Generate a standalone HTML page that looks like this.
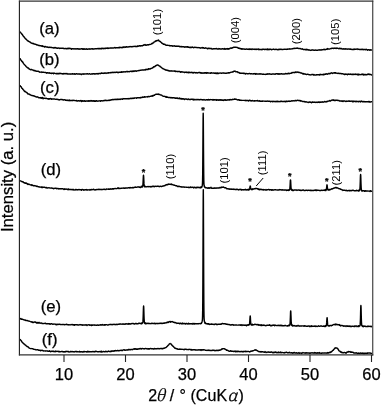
<!DOCTYPE html>
<html><head><meta charset="utf-8"><style>
html,body{margin:0;padding:0;background:#fff;}
svg{display:block;}
text{font-family:"Liberation Sans",Arial,sans-serif;fill:#000;stroke:#000;stroke-width:0.25px;}
</style></head><body>
<svg width="381" height="405" viewBox="0 0 381 405">
<rect x="0" y="0" width="381" height="405" fill="#fff"/>
<g fill="none" stroke="#000" stroke-width="1.45" stroke-linejoin="round">
<path d="M20.0 31.60L20.50 32.36L21.00 32.94L21.50 33.49L22.00 34.24L22.50 34.79L23.00 35.63L23.50 36.51L24.00 36.77L24.50 37.36L25.00 38.18L25.50 38.73L26.00 39.22L26.50 39.50L27.00 40.16L27.50 40.76L28.00 40.79L28.50 41.37L29.00 41.45L29.50 41.88L30.00 42.04L30.50 42.60L31.00 42.63L31.50 43.15L32.00 43.33L32.50 43.45L33.00 43.17L33.50 43.73L34.00 44.00L34.50 44.19L35.00 44.01L35.50 44.38L36.00 44.43L36.50 44.61L37.00 45.13L37.50 44.89L38.00 45.18L38.50 45.50L39.00 45.33L39.50 45.54L40.00 45.70L40.50 45.80L41.00 45.65L41.50 46.01L42.00 46.37L42.50 45.88L43.00 46.46L43.50 46.40L44.00 46.34L44.50 46.96L45.00 46.79L45.50 46.48L46.00 46.82L46.50 46.99L47.00 46.91L47.50 47.16L48.00 47.08L48.50 47.30L49.00 47.52L49.50 47.16L50.00 47.40L50.50 47.33L51.00 47.51L51.50 47.31L52.00 47.49L52.50 47.62L53.00 47.89L53.50 47.99L54.00 47.54L54.50 47.69L55.00 48.02L55.50 47.53L56.00 47.87L56.50 47.98L57.00 48.29L57.50 48.21L58.00 48.04L58.50 48.06L59.00 48.12L59.50 48.50L60.00 48.14L60.50 48.20L61.00 48.36L61.50 48.29L62.00 48.30L62.50 48.14L63.00 48.39L63.50 48.33L64.00 48.68L64.50 48.60L65.00 48.48L65.50 48.65L66.00 48.47L66.50 48.77L67.00 48.57L67.50 48.71L68.00 48.36L68.50 48.70L69.00 48.32L69.50 48.27L70.00 48.63L70.50 48.53L71.00 48.76L71.50 49.19L72.00 48.60L72.50 48.66L73.00 48.84L73.50 48.92L74.00 48.80L74.50 48.81L75.00 49.01L75.50 48.99L76.00 48.70L76.50 48.91L77.00 48.95L77.50 48.74L78.00 49.02L78.50 48.81L79.00 49.19L79.50 49.05L80.00 49.04L80.50 48.92L81.00 49.02L81.50 48.65L82.00 48.84L82.50 49.14L83.00 48.65L83.50 49.25L84.00 48.73L84.50 49.24L85.00 48.92L85.50 49.24L86.00 49.11L86.50 48.77L87.00 49.32L87.50 49.36L88.00 49.05L88.50 49.00L89.00 49.01L89.50 48.84L90.00 49.24L90.50 48.90L91.00 48.99L91.50 48.82L92.00 48.84L92.50 48.70L93.00 49.19L93.50 48.89L94.00 49.10L94.50 48.89L95.00 48.73L95.50 48.78L96.00 48.72L96.50 48.81L97.00 48.72L97.50 48.71L98.00 48.48L98.50 48.57L99.00 49.05L99.50 48.56L100.00 48.47L100.50 48.73L101.00 48.92L101.50 48.32L102.00 48.55L102.50 48.44L103.00 48.19L103.50 48.66L104.00 48.48L104.50 48.47L105.00 48.28L105.50 48.49L106.00 48.26L106.50 48.30L107.00 48.08L107.50 48.02L108.00 48.50L108.50 48.10L109.00 48.22L109.50 48.12L110.00 48.01L110.50 47.96L111.00 48.15L111.50 47.93L112.00 47.93L112.50 47.93L113.00 48.13L113.50 47.99L114.00 47.90L114.50 47.68L115.00 47.49L115.50 47.92L116.00 47.89L116.50 47.64L117.00 47.75L117.50 47.77L118.00 47.75L118.50 47.74L119.00 47.43L119.50 47.80L120.00 47.21L120.50 47.61L121.00 47.50L121.50 47.55L122.00 47.72L122.50 47.61L123.00 47.06L123.50 46.92L124.00 47.39L124.50 46.99L125.00 47.16L125.50 47.30L126.00 46.78L126.50 46.65L127.00 47.09L127.50 47.02L128.00 46.93L128.50 46.95L129.00 46.74L129.50 46.58L130.00 46.81L130.50 46.62L131.00 46.45L131.50 46.84L132.00 46.69L132.50 46.75L133.00 46.44L133.50 46.46L134.00 46.36L134.50 46.34L135.00 46.52L135.50 46.28L136.00 46.46L136.50 46.40L137.00 46.69L137.50 45.95L138.00 46.34L138.50 46.08L139.00 46.04L139.50 45.68L140.00 45.81L140.50 45.99L141.00 45.76L141.50 45.72L142.00 45.58L142.50 45.80L143.00 45.50L143.50 45.00L144.00 45.23L144.50 44.91L145.00 44.59L145.50 45.08L146.00 45.38L146.50 45.06L147.00 44.75L147.50 44.73L148.00 45.07L148.50 44.79L149.00 44.67L149.50 44.53L150.00 44.41L150.50 44.40L151.00 44.16L151.50 43.87L152.00 43.37L152.50 43.40L153.00 42.86L153.50 42.88L154.00 42.05L154.50 41.91L155.00 41.57L155.50 40.95L156.00 41.24L156.50 40.94L157.00 40.38L157.50 40.56L158.00 40.53L158.50 40.08L159.00 40.90L159.50 41.15L160.00 41.54L160.50 41.70L161.00 42.25L161.50 42.65L162.00 43.29L162.50 43.46L163.00 43.70L163.50 44.28L164.00 44.12L164.50 44.37L165.00 44.28L165.50 45.12L166.00 45.14L166.50 45.26L167.00 45.31L167.50 45.29L168.00 45.39L168.50 45.37L169.00 45.44L169.50 45.55L170.00 45.90L170.50 45.76L171.00 45.69L171.50 45.63L172.00 45.67L172.50 46.17L173.00 45.99L173.50 45.95L174.00 45.92L174.50 45.81L175.00 46.06L175.50 46.30L176.00 46.09L176.50 46.17L177.00 46.22L177.50 46.33L178.00 46.03L178.50 46.35L179.00 46.27L179.50 46.66L180.00 46.37L180.50 46.68L181.00 46.92L181.50 46.59L182.00 46.57L182.50 46.77L183.00 46.77L183.50 46.61L184.00 46.93L184.50 47.28L185.00 46.86L185.50 46.90L186.00 46.76L186.50 47.06L187.00 46.78L187.50 46.84L188.00 47.34L188.50 46.93L189.00 47.36L189.50 47.47L190.00 47.25L190.50 47.33L191.00 47.64L191.50 47.24L192.00 47.18L192.50 47.06L193.00 47.36L193.50 47.68L194.00 47.60L194.50 47.24L195.00 47.29L195.50 47.39L196.00 47.57L196.50 47.50L197.00 47.61L197.50 47.66L198.00 47.57L198.50 47.65L199.00 47.73L199.50 47.70L200.00 47.85L200.50 48.15L201.00 47.93L201.50 47.86L202.00 47.55L202.50 48.00L203.00 47.58L203.50 47.73L204.00 48.22L204.50 48.23L205.00 48.11L205.50 47.84L206.00 48.15L206.50 48.13L207.00 48.44L207.50 48.81L208.00 48.44L208.50 48.29L209.00 48.25L209.50 48.51L210.00 48.53L210.50 48.37L211.00 48.66L211.50 48.44L212.00 48.92L212.50 48.94L213.00 48.97L213.50 48.68L214.00 48.90L214.50 48.79L215.00 48.75L215.50 48.77L216.00 48.59L216.50 48.57L217.00 49.03L217.50 48.84L218.00 48.93L218.50 49.10L219.00 48.56L219.50 48.76L220.00 48.95L220.50 49.00L221.00 48.85L221.50 49.14L222.00 48.98L222.50 48.69L223.00 48.75L223.50 49.10L224.00 49.02L224.50 48.55L225.00 49.19L225.50 49.02L226.00 49.16L226.50 48.79L227.00 48.78L227.50 48.57L228.00 49.26L228.50 48.65L229.00 48.93L229.50 48.40L230.00 48.46L230.50 47.98L231.00 48.10L231.50 48.23L232.00 47.63L232.50 47.94L233.00 47.64L233.50 47.22L234.00 47.22L234.50 47.16L235.00 47.22L235.50 47.15L236.00 47.18L236.50 47.40L237.00 47.41L237.50 47.52L238.00 47.94L238.50 48.29L239.00 47.96L239.50 48.41L240.00 48.41L240.50 48.46L241.00 48.92L241.50 48.73L242.00 49.21L242.50 48.81L243.00 49.10L243.50 49.02L244.00 48.95L244.50 49.24L245.00 49.12L245.50 49.29L246.00 49.18L246.50 48.99L247.00 49.20L247.50 49.25L248.00 49.44L248.50 49.08L249.00 49.26L249.50 48.94L250.00 49.42L250.50 49.08L251.00 48.95L251.50 49.30L252.00 49.54L252.50 49.02L253.00 49.12L253.50 49.19L254.00 49.12L254.50 49.43L255.00 49.20L255.50 49.22L256.00 49.49L256.50 49.22L257.00 49.47L257.50 49.19L258.00 49.15L258.50 49.03L259.00 49.77L259.50 49.34L260.00 49.46L260.50 49.40L261.00 49.45L261.50 49.43L262.00 49.80L262.50 49.22L263.00 49.12L263.50 49.23L264.00 49.17L264.50 49.59L265.00 49.60L265.50 49.25L266.00 49.17L266.50 49.38L267.00 49.73L267.50 48.89L268.00 49.56L268.50 49.24L269.00 49.67L269.50 49.24L270.00 49.40L270.50 49.16L271.00 49.27L271.50 49.74L272.00 49.63L272.50 49.38L273.00 49.29L273.50 49.09L274.00 49.39L274.50 49.46L275.00 49.45L275.50 49.45L276.00 49.24L276.50 49.45L277.00 49.46L277.50 49.72L278.00 49.84L278.50 49.43L279.00 49.31L279.50 49.44L280.00 49.33L280.50 49.31L281.00 49.44L281.50 49.24L282.00 49.56L282.50 49.42L283.00 49.48L283.50 49.39L284.00 49.27L284.50 49.22L285.00 49.35L285.50 49.27L286.00 49.41L286.50 49.35L287.00 49.06L287.50 49.32L288.00 49.01L288.50 49.12L289.00 49.15L289.50 48.75L290.00 49.14L290.50 49.09L291.00 48.97L291.50 48.85L292.00 48.79L292.50 48.60L293.00 48.66L293.50 48.52L294.00 48.57L294.50 48.23L295.00 48.45L295.50 48.37L296.00 48.26L296.50 48.17L297.00 48.36L297.50 47.93L298.00 48.39L298.50 48.41L299.00 48.49L299.50 48.60L300.00 48.49L300.50 48.68L301.00 48.97L301.50 49.04L302.00 49.10L302.50 48.86L303.00 49.37L303.50 49.59L304.00 49.65L304.50 49.57L305.00 49.29L305.50 49.85L306.00 49.70L306.50 49.27L307.00 49.90L307.50 49.57L308.00 49.65L308.50 49.82L309.00 50.23L309.50 49.93L310.00 50.08L310.50 50.40L311.00 50.38L311.50 50.06L312.00 50.04L312.50 49.85L313.00 49.98L313.50 50.21L314.00 50.21L314.50 50.15L315.00 50.33L315.50 49.98L316.00 50.12L316.50 50.28L317.00 50.24L317.50 50.33L318.00 50.18L318.50 50.02L319.00 50.14L319.50 49.84L320.00 49.69L320.50 50.10L321.00 49.94L321.50 49.98L322.00 49.54L322.50 49.76L323.00 49.67L323.50 49.57L324.00 49.23L324.50 49.55L325.00 49.74L325.50 49.56L326.00 49.29L326.50 49.33L327.00 49.40L327.50 48.60L328.00 49.04L328.50 49.07L329.00 49.00L329.50 49.10L330.00 48.89L330.50 48.63L331.00 48.53L331.50 48.54L332.00 48.19L332.50 48.23L333.00 48.36L333.50 48.53L334.00 48.09L334.50 48.11L335.00 48.17L335.50 48.42L336.00 48.18L336.50 48.52L337.00 48.08L337.50 48.29L338.00 48.34L338.50 48.59L339.00 48.70L339.50 48.24L340.00 48.41L340.50 48.71L341.00 48.56L341.50 48.44L342.00 48.99L342.50 48.92L343.00 48.96L343.50 48.80L344.00 49.13L344.50 48.91L345.00 49.20L345.50 48.82L346.00 48.85L346.50 49.08L347.00 48.91L347.50 49.20L348.00 49.14L348.50 48.91L349.00 49.12L349.50 49.05L350.00 49.32L350.50 49.02L351.00 49.07L351.50 49.41L352.00 49.63L352.50 49.59L353.00 49.22L353.50 49.26L354.00 49.53L354.50 49.21L355.00 49.06L355.50 49.29L356.00 49.37L356.50 49.13L357.00 48.98L357.50 49.03L358.00 49.47L358.50 49.20L359.00 49.34L359.50 49.42L360.00 49.52L360.50 49.35L361.00 49.53L361.50 49.27L362.00 49.40L362.50 49.28L363.00 49.74L363.50 49.52L364.00 49.40L364.50 49.50L365.00 49.55L365.50 49.76L366.00 49.32L366.50 49.46L367.00 49.61L367.50 50.22L368.00 49.93L368.50 49.75L369.00 49.94L369.50 50.23L370.00 49.80L370.50 49.81L371.00 50.15L371.50 50.04L372.00 50.11"/>
<path d="M20.0 58.19L20.50 59.48L21.00 60.21L21.50 60.73L22.00 61.48L22.50 61.64L23.00 62.85L23.50 63.34L24.00 64.08L24.50 64.75L25.00 65.16L25.50 65.50L26.00 66.50L26.50 66.83L27.00 67.39L27.50 67.75L28.00 68.13L28.50 68.00L29.00 68.96L29.50 69.00L30.00 69.40L30.50 69.79L31.00 69.61L31.50 69.44L32.00 69.80L32.50 69.91L33.00 70.22L33.50 70.49L34.00 70.22L34.50 70.82L35.00 70.58L35.50 71.06L36.00 71.09L36.50 71.16L37.00 71.30L37.50 71.30L38.00 71.37L38.50 71.24L39.00 71.65L39.50 72.10L40.00 72.21L40.50 72.15L41.00 72.11L41.50 71.90L42.00 72.40L42.50 72.17L43.00 72.24L43.50 72.26L44.00 72.40L44.50 72.36L45.00 72.50L45.50 72.36L46.00 72.56L46.50 73.15L47.00 72.74L47.50 72.76L48.00 72.97L48.50 73.06L49.00 72.75L49.50 72.98L50.00 73.25L50.50 73.17L51.00 73.19L51.50 73.52L52.00 73.11L52.50 73.31L53.00 73.22L53.50 73.66L54.00 73.01L54.50 73.30L55.00 73.36L55.50 73.63L56.00 73.65L56.50 73.83L57.00 73.26L57.50 73.75L58.00 73.56L58.50 73.51L59.00 73.77L59.50 73.49L60.00 73.28L60.50 73.63L61.00 73.42L61.50 73.60L62.00 73.82L62.50 73.82L63.00 74.09L63.50 73.74L64.00 73.49L64.50 73.66L65.00 73.63L65.50 73.59L66.00 73.93L66.50 73.72L67.00 73.47L67.50 74.01L68.00 73.86L68.50 73.97L69.00 73.93L69.50 74.04L70.00 73.93L70.50 74.18L71.00 74.03L71.50 74.03L72.00 74.04L72.50 73.68L73.00 73.95L73.50 73.93L74.00 74.03L74.50 73.73L75.00 74.33L75.50 74.04L76.00 73.78L76.50 73.69L77.00 73.98L77.50 74.02L78.00 73.90L78.50 74.07L79.00 73.93L79.50 74.17L80.00 73.92L80.50 74.06L81.00 74.27L81.50 74.59L82.00 73.87L82.50 73.99L83.00 73.91L83.50 74.24L84.00 73.85L84.50 73.99L85.00 74.08L85.50 73.89L86.00 73.89L86.50 73.99L87.00 73.66L87.50 73.79L88.00 73.99L88.50 74.09L89.00 74.01L89.50 73.68L90.00 73.93L90.50 74.16L91.00 74.10L91.50 73.95L92.00 73.77L92.50 74.05L93.00 73.78L93.50 73.64L94.00 73.68L94.50 74.11L95.00 73.83L95.50 73.99L96.00 73.63L96.50 73.88L97.00 73.54L97.50 73.60L98.00 74.09L98.50 73.71L99.00 73.42L99.50 73.47L100.00 73.51L100.50 73.65L101.00 73.28L101.50 72.99L102.00 73.24L102.50 73.26L103.00 73.24L103.50 73.44L104.00 73.21L104.50 73.27L105.00 72.84L105.50 73.20L106.00 73.41L106.50 73.10L107.00 72.96L107.50 72.91L108.00 73.20L108.50 72.62L109.00 72.74L109.50 72.82L110.00 72.85L110.50 72.58L111.00 72.69L111.50 72.54L112.00 72.59L112.50 72.51L113.00 72.28L113.50 72.47L114.00 72.62L114.50 72.23L115.00 72.34L115.50 72.50L116.00 72.12L116.50 72.34L117.00 72.07L117.50 72.48L118.00 72.68L118.50 72.60L119.00 72.12L119.50 72.28L120.00 72.13L120.50 72.10L121.00 72.36L121.50 71.76L122.00 72.20L122.50 71.95L123.00 72.22L123.50 71.94L124.00 71.74L124.50 71.90L125.00 71.96L125.50 71.79L126.00 71.85L126.50 71.62L127.00 71.26L127.50 71.83L128.00 71.76L128.50 71.62L129.00 71.57L129.50 71.73L130.00 71.39L130.50 71.30L131.00 71.37L131.50 71.61L132.00 71.06L132.50 71.53L133.00 71.13L133.50 70.99L134.00 71.42L134.50 71.11L135.00 70.82L135.50 70.96L136.00 71.17L136.50 71.16L137.00 70.77L137.50 70.87L138.00 70.86L138.50 70.51L139.00 70.63L139.50 70.48L140.00 70.29L140.50 70.22L141.00 70.25L141.50 70.16L142.00 69.95L142.50 69.90L143.00 70.13L143.50 69.87L144.00 69.92L144.50 69.91L145.00 69.72L145.50 69.98L146.00 69.29L146.50 69.55L147.00 69.26L147.50 69.62L148.00 69.52L148.50 68.72L149.00 68.82L149.50 69.05L150.00 68.95L150.50 68.79L151.00 68.46L151.50 68.38L152.00 68.20L152.50 67.80L153.00 67.75L153.50 66.79L154.00 67.05L154.50 66.39L155.00 66.45L155.50 65.89L156.00 65.47L156.50 65.49L157.00 65.08L157.50 65.01L158.00 64.93L158.50 65.39L159.00 65.74L159.50 66.17L160.00 66.30L160.50 66.93L161.00 67.13L161.50 67.51L162.00 68.02L162.50 68.48L163.00 68.53L163.50 68.85L164.00 69.14L164.50 69.43L165.00 69.44L165.50 70.02L166.00 69.90L166.50 70.22L167.00 70.08L167.50 70.43L168.00 70.54L168.50 70.46L169.00 71.03L169.50 70.77L170.00 71.13L170.50 71.03L171.00 70.77L171.50 70.89L172.00 71.11L172.50 71.09L173.00 71.15L173.50 71.14L174.00 70.89L174.50 71.26L175.00 70.91L175.50 71.48L176.00 71.31L176.50 71.37L177.00 71.52L177.50 71.66L178.00 71.37L178.50 71.36L179.00 71.54L179.50 71.39L180.00 71.65L180.50 72.20L181.00 71.71L181.50 72.10L182.00 71.73L182.50 72.10L183.00 72.02L183.50 72.10L184.00 72.26L184.50 72.53L185.00 72.25L185.50 72.26L186.00 72.07L186.50 72.41L187.00 72.27L187.50 72.51L188.00 72.36L188.50 72.75L189.00 72.03L189.50 72.39L190.00 72.65L190.50 72.42L191.00 72.36L191.50 72.49L192.00 72.29L192.50 72.61L193.00 73.09L193.50 72.85L194.00 72.42L194.50 72.49L195.00 72.60L195.50 72.90L196.00 72.56L196.50 72.60L197.00 72.93L197.50 72.94L198.00 72.71L198.50 72.58L199.00 72.51L199.50 72.69L200.00 72.40L200.50 73.01L201.00 72.74L201.50 72.98L202.00 73.27L202.50 73.14L203.00 72.69L203.50 73.10L204.00 73.17L204.50 72.80L205.00 72.77L205.50 72.95L206.00 72.66L206.50 73.29L207.00 72.52L207.50 72.79L208.00 72.97L208.50 72.99L209.00 73.07L209.50 73.10L210.00 73.01L210.50 73.29L211.00 72.65L211.50 73.08L212.00 72.95L212.50 73.12L213.00 73.15L213.50 72.93L214.00 72.99L214.50 73.28L215.00 73.20L215.50 73.00L216.00 73.55L216.50 73.61L217.00 72.86L217.50 73.21L218.00 73.66L218.50 73.32L219.00 73.21L219.50 73.13L220.00 73.06L220.50 73.13L221.00 73.07L221.50 73.33L222.00 73.10L222.50 73.09L223.00 72.93L223.50 73.16L224.00 72.99L224.50 73.12L225.00 73.36L225.50 73.21L226.00 73.22L226.50 73.17L227.00 73.08L227.50 73.00L228.00 72.92L228.50 73.07L229.00 72.63L229.50 73.03L230.00 72.67L230.50 72.40L231.00 72.32L231.50 72.14L232.00 72.15L232.50 71.82L233.00 72.04L233.50 71.52L234.00 71.11L234.50 71.35L235.00 71.08L235.50 71.51L236.00 71.82L236.50 71.86L237.00 71.62L237.50 71.90L238.00 72.58L238.50 72.46L239.00 72.56L239.50 72.91L240.00 73.33L240.50 73.21L241.00 73.09L241.50 73.22L242.00 73.35L242.50 73.17L243.00 73.14L243.50 73.42L244.00 73.26L244.50 73.48L245.00 73.54L245.50 74.03L246.00 73.42L246.50 73.59L247.00 73.61L247.50 73.75L248.00 73.90L248.50 73.61L249.00 73.57L249.50 73.43L250.00 73.59L250.50 73.90L251.00 73.83L251.50 73.63L252.00 73.78L252.50 73.88L253.00 73.99L253.50 73.79L254.00 73.88L254.50 73.58L255.00 73.73L255.50 74.30L256.00 73.55L256.50 73.94L257.00 74.06L257.50 73.96L258.00 73.88L258.50 74.04L259.00 74.06L259.50 74.06L260.00 73.71L260.50 74.06L261.00 73.93L261.50 74.00L262.00 74.16L262.50 74.25L263.00 74.30L263.50 74.03L264.00 74.31L264.50 74.37L265.00 74.36L265.50 74.41L266.00 74.10L266.50 74.09L267.00 74.29L267.50 73.85L268.00 74.16L268.50 74.01L269.00 74.04L269.50 73.76L270.00 73.92L270.50 74.09L271.00 74.27L271.50 74.28L272.00 74.06L272.50 74.03L273.00 73.90L273.50 74.14L274.00 74.00L274.50 74.16L275.00 74.38L275.50 74.02L276.00 73.72L276.50 73.83L277.00 73.70L277.50 73.75L278.00 74.24L278.50 74.01L279.00 73.65L279.50 74.07L280.00 74.18L280.50 73.85L281.00 73.77L281.50 73.83L282.00 73.94L282.50 73.99L283.00 74.08L283.50 74.07L284.00 74.05L284.50 74.06L285.00 73.90L285.50 73.44L286.00 73.69L286.50 73.74L287.00 73.57L287.50 73.78L288.00 73.48L288.50 73.31L289.00 73.73L289.50 73.51L290.00 73.34L290.50 73.40L291.00 73.34L291.50 73.11L292.00 72.45L292.50 72.71L293.00 72.65L293.50 72.43L294.00 72.57L294.50 72.66L295.00 72.24L295.50 72.03L296.00 72.60L296.50 72.07L297.00 71.91L297.50 72.22L298.00 72.31L298.50 72.16L299.00 72.56L299.50 72.42L300.00 72.47L300.50 72.83L301.00 73.10L301.50 72.96L302.00 73.30L302.50 73.35L303.00 74.07L303.50 73.49L304.00 74.03L304.50 73.85L305.00 73.94L305.50 74.20L306.00 74.32L306.50 74.48L307.00 74.36L307.50 74.24L308.00 74.31L308.50 74.57L309.00 74.63L309.50 74.84L310.00 74.68L310.50 74.84L311.00 74.96L311.50 74.72L312.00 74.41L312.50 74.49L313.00 74.46L313.50 75.08L314.00 74.60L314.50 75.02L315.00 74.90L315.50 75.12L316.00 74.98L316.50 74.75L317.00 74.73L317.50 74.78L318.00 74.79L318.50 74.64L319.00 74.72L319.50 75.04L320.00 74.36L320.50 74.73L321.00 74.47L321.50 74.66L322.00 74.76L322.50 74.55L323.00 74.67L323.50 74.15L324.00 74.64L324.50 74.24L325.00 74.43L325.50 74.27L326.00 73.64L326.50 73.92L327.00 74.03L327.50 74.20L328.00 73.84L328.50 73.73L329.00 73.28L329.50 73.74L330.00 73.70L330.50 73.24L331.00 73.08L331.50 72.71L332.00 73.12L332.50 73.42L333.00 72.97L333.50 73.06L334.00 72.91L334.50 72.62L335.00 73.13L335.50 72.67L336.00 72.95L336.50 73.13L337.00 73.34L337.50 73.34L338.00 73.43L338.50 73.29L339.00 73.27L339.50 73.63L340.00 73.56L340.50 73.51L341.00 73.59L341.50 73.81L342.00 73.60L342.50 73.75L343.00 73.74L343.50 74.14L344.00 74.22L344.50 74.57L345.00 73.90L345.50 74.09L346.00 74.43L346.50 74.22L347.00 74.21L347.50 74.63L348.00 74.24L348.50 74.09L349.00 74.06L349.50 74.40L350.00 74.41L350.50 74.08L351.00 74.16L351.50 74.48L352.00 74.49L352.50 74.25L353.00 74.51L353.50 74.51L354.00 74.04L354.50 74.34L355.00 74.49L355.50 74.30L356.00 73.99L356.50 74.36L357.00 74.57L357.50 74.74L358.00 73.99L358.50 74.96L359.00 74.21L359.50 74.63L360.00 74.69L360.50 74.65L361.00 74.48L361.50 74.23L362.00 74.59L362.50 74.32L363.00 73.96L363.50 75.04L364.00 74.62L364.50 74.85L365.00 74.30L365.50 74.78L366.00 74.81L366.50 74.81L367.00 74.50L367.50 74.27L368.00 74.48L368.50 74.08L369.00 74.19L369.50 74.55L370.00 74.34L370.50 74.51L371.00 74.53L371.50 74.94L372.00 74.82"/>
<path d="M20.0 85.29L20.50 86.31L21.00 86.67L21.50 87.49L22.00 88.45L22.50 88.68L23.00 89.50L23.50 89.86L24.00 90.66L24.50 91.41L25.00 91.34L25.50 91.93L26.00 92.08L26.50 92.39L27.00 92.71L27.50 93.57L28.00 94.06L28.50 93.97L29.00 94.01L29.50 94.55L30.00 94.59L30.50 95.05L31.00 95.17L31.50 95.37L32.00 95.63L32.50 95.58L33.00 95.80L33.50 95.71L34.00 96.13L34.50 96.09L35.00 96.49L35.50 96.47L36.00 96.82L36.50 97.03L37.00 96.78L37.50 97.01L38.00 97.10L38.50 97.55L39.00 97.84L39.50 97.76L40.00 97.61L40.50 98.06L41.00 97.55L41.50 98.24L42.00 97.88L42.50 97.53L43.00 98.68L43.50 98.54L44.00 98.08L44.50 98.37L45.00 98.35L45.50 98.47L46.00 98.20L46.50 98.41L47.00 98.69L47.50 98.68L48.00 98.92L48.50 98.73L49.00 99.23L49.50 98.65L50.00 98.89L50.50 98.49L51.00 98.66L51.50 99.21L52.00 98.79L52.50 99.12L53.00 99.04L53.50 98.88L54.00 99.05L54.50 99.05L55.00 99.10L55.50 99.38L56.00 99.40L56.50 99.20L57.00 99.17L57.50 99.45L58.00 99.41L58.50 99.67L59.00 100.04L59.50 99.72L60.00 99.58L60.50 99.59L61.00 99.49L61.50 99.52L62.00 99.54L62.50 99.70L63.00 99.73L63.50 100.01L64.00 99.81L64.50 99.89L65.00 99.72L65.50 100.33L66.00 100.14L66.50 100.43L67.00 100.27L67.50 100.44L68.00 100.12L68.50 100.35L69.00 100.78L69.50 100.02L70.00 100.53L70.50 100.66L71.00 100.44L71.50 100.54L72.00 100.67L72.50 100.31L73.00 100.56L73.50 100.33L74.00 100.40L74.50 100.44L75.00 100.57L75.50 100.66L76.00 100.76L76.50 100.40L77.00 101.13L77.50 100.99L78.00 100.93L78.50 100.73L79.00 100.81L79.50 100.96L80.00 100.96L80.50 100.55L81.00 101.07L81.50 101.53L82.00 100.57L82.50 101.16L83.00 101.05L83.50 100.96L84.00 101.27L84.50 100.75L85.00 101.03L85.50 101.29L86.00 100.95L86.50 100.90L87.00 101.01L87.50 100.90L88.00 101.30L88.50 100.80L89.00 101.16L89.50 100.72L90.00 101.12L90.50 100.95L91.00 100.44L91.50 100.97L92.00 100.75L92.50 100.87L93.00 101.28L93.50 100.73L94.00 100.73L94.50 101.24L95.00 100.97L95.50 101.25L96.00 101.00L96.50 100.75L97.00 100.91L97.50 101.17L98.00 101.11L98.50 100.91L99.00 100.91L99.50 100.87L100.00 100.77L100.50 101.28L101.00 100.87L101.50 100.61L102.00 100.72L102.50 100.94L103.00 100.90L103.50 100.70L104.00 100.55L104.50 100.65L105.00 100.26L105.50 100.29L106.00 100.67L106.50 100.36L107.00 100.48L107.50 100.60L108.00 100.43L108.50 100.25L109.00 100.62L109.50 100.27L110.00 100.00L110.50 100.17L111.00 100.05L111.50 99.73L112.00 99.87L112.50 99.77L113.00 99.35L113.50 99.67L114.00 99.60L114.50 99.53L115.00 99.24L115.50 99.47L116.00 99.49L116.50 99.49L117.00 99.20L117.50 99.53L118.00 99.11L118.50 99.28L119.00 99.56L119.50 99.12L120.00 99.12L120.50 99.41L121.00 99.08L121.50 99.07L122.00 99.14L122.50 99.28L123.00 98.58L123.50 98.83L124.00 98.76L124.50 98.71L125.00 98.72L125.50 98.69L126.00 98.89L126.50 98.62L127.00 98.79L127.50 98.81L128.00 98.55L128.50 98.69L129.00 98.96L129.50 98.65L130.00 98.42L130.50 98.50L131.00 98.28L131.50 98.48L132.00 98.56L132.50 98.17L133.00 98.24L133.50 98.46L134.00 98.08L134.50 98.17L135.00 97.87L135.50 97.86L136.00 97.86L136.50 98.35L137.00 97.78L137.50 97.70L138.00 97.63L138.50 97.66L139.00 97.77L139.50 97.62L140.00 97.94L140.50 97.52L141.00 97.71L141.50 97.43L142.00 97.45L142.50 96.99L143.00 97.20L143.50 97.17L144.00 97.09L144.50 96.67L145.00 97.23L145.50 96.93L146.00 96.88L146.50 96.87L147.00 96.83L147.50 96.91L148.00 96.52L148.50 96.53L149.00 96.70L149.50 96.59L150.00 96.39L150.50 96.25L151.00 96.07L151.50 96.09L152.00 96.19L152.50 95.58L153.00 95.92L153.50 95.60L154.00 95.16L154.50 95.21L155.00 94.58L155.50 94.35L156.00 94.29L156.50 94.34L157.00 94.28L157.50 94.20L158.00 94.34L158.50 93.96L159.00 94.60L159.50 94.37L160.00 94.69L160.50 94.94L161.00 95.00L161.50 95.17L162.00 95.45L162.50 95.85L163.00 96.16L163.50 96.34L164.00 96.19L164.50 96.38L165.00 96.49L165.50 96.89L166.00 96.50L166.50 97.25L167.00 96.99L167.50 97.01L168.00 97.30L168.50 97.50L169.00 97.42L169.50 97.61L170.00 97.49L170.50 97.76L171.00 97.82L171.50 97.60L172.00 97.96L172.50 97.76L173.00 97.80L173.50 97.66L174.00 97.84L174.50 98.12L175.00 97.76L175.50 98.21L176.00 98.21L176.50 98.26L177.00 97.82L177.50 98.30L178.00 98.51L178.50 98.29L179.00 98.51L179.50 98.08L180.00 98.74L180.50 98.53L181.00 98.89L181.50 98.40L182.00 98.95L182.50 98.81L183.00 99.06L183.50 98.76L184.00 98.86L184.50 99.46L185.00 98.88L185.50 98.93L186.00 99.05L186.50 98.93L187.00 99.40L187.50 99.53L188.00 99.07L188.50 98.89L189.00 99.49L189.50 99.51L190.00 99.47L190.50 99.56L191.00 99.18L191.50 99.34L192.00 99.12L192.50 99.14L193.00 99.64L193.50 99.33L194.00 99.94L194.50 99.52L195.00 99.39L195.50 99.70L196.00 99.91L196.50 99.67L197.00 99.34L197.50 99.68L198.00 99.89L198.50 99.53L199.00 99.49L199.50 99.86L200.00 99.70L200.50 99.46L201.00 99.62L201.50 99.55L202.00 99.77L202.50 99.75L203.00 99.97L203.50 99.89L204.00 99.44L204.50 99.85L205.00 99.95L205.50 99.88L206.00 100.00L206.50 99.69L207.00 99.62L207.50 100.00L208.00 99.61L208.50 99.40L209.00 100.05L209.50 99.70L210.00 99.79L210.50 99.58L211.00 99.60L211.50 99.64L212.00 99.81L212.50 99.96L213.00 99.43L213.50 100.05L214.00 99.67L214.50 99.70L215.00 100.05L215.50 99.91L216.00 99.62L216.50 100.30L217.00 99.77L217.50 99.99L218.00 99.99L218.50 100.23L219.00 99.86L219.50 100.16L220.00 99.82L220.50 100.19L221.00 99.82L221.50 99.90L222.00 100.36L222.50 100.04L223.00 100.01L223.50 100.43L224.00 100.06L224.50 99.83L225.00 100.14L225.50 99.75L226.00 100.21L226.50 100.22L227.00 99.86L227.50 99.84L228.00 99.99L228.50 99.94L229.00 99.72L229.50 100.00L230.00 99.44L230.50 99.71L231.00 99.67L231.50 99.63L232.00 99.67L232.50 99.29L233.00 99.58L233.50 99.35L234.00 99.20L234.50 99.02L235.00 99.05L235.50 99.38L236.00 99.17L236.50 99.45L237.00 99.74L237.50 99.83L238.00 100.03L238.50 99.74L239.00 99.67L239.50 100.16L240.00 100.08L240.50 100.30L241.00 100.12L241.50 100.40L242.00 100.37L242.50 100.38L243.00 100.36L243.50 100.37L244.00 100.36L244.50 100.38L245.00 100.56L245.50 100.28L246.00 100.75L246.50 100.41L247.00 100.65L247.50 100.45L248.00 100.44L248.50 100.92L249.00 100.47L249.50 100.30L250.00 100.44L250.50 100.54L251.00 101.05L251.50 100.68L252.00 100.85L252.50 100.49L253.00 100.78L253.50 100.86L254.00 101.11L254.50 100.63L255.00 100.91L255.50 100.87L256.00 100.63L256.50 100.85L257.00 100.82L257.50 100.43L258.00 101.04L258.50 101.04L259.00 100.87L259.50 100.71L260.00 101.29L260.50 101.07L261.00 101.23L261.50 101.33L262.00 100.96L262.50 101.25L263.00 101.05L263.50 101.10L264.00 101.11L264.50 101.14L265.00 101.38L265.50 101.20L266.00 101.16L266.50 101.14L267.00 101.28L267.50 101.05L268.00 101.14L268.50 101.24L269.00 101.15L269.50 101.25L270.00 101.16L270.50 101.70L271.00 101.57L271.50 101.41L272.00 101.32L272.50 101.78L273.00 101.41L273.50 101.34L274.00 101.43L274.50 101.44L275.00 101.67L275.50 101.39L276.00 101.83L276.50 101.24L277.00 101.56L277.50 101.23L278.00 101.80L278.50 101.38L279.00 101.44L279.50 101.65L280.00 101.72L280.50 101.25L281.00 101.41L281.50 101.20L282.00 101.51L282.50 101.47L283.00 101.42L283.50 101.35L284.00 101.41L284.50 101.34L285.00 101.58L285.50 101.77L286.00 101.07L286.50 101.42L287.00 101.34L287.50 101.50L288.00 101.18L288.50 101.31L289.00 101.09L289.50 101.40L290.00 101.23L290.50 101.13L291.00 101.18L291.50 100.99L292.00 100.67L292.50 101.03L293.00 100.90L293.50 100.75L294.00 100.91L294.50 100.90L295.00 100.38L295.50 100.40L296.00 100.83L296.50 100.79L297.00 100.36L297.50 100.28L298.00 100.43L298.50 100.50L299.00 100.35L299.50 100.75L300.00 100.58L300.50 100.68L301.00 101.21L301.50 100.99L302.00 101.21L302.50 101.45L303.00 101.58L303.50 101.44L304.00 101.60L304.50 101.51L305.00 102.10L305.50 101.95L306.00 101.67L306.50 101.95L307.00 102.14L307.50 102.14L308.00 102.46L308.50 102.41L309.00 102.06L309.50 102.18L310.00 101.97L310.50 102.30L311.00 102.30L311.50 102.83L312.00 102.32L312.50 101.90L313.00 102.19L313.50 102.36L314.00 102.09L314.50 102.17L315.00 102.28L315.50 102.42L316.00 102.32L316.50 102.17L317.00 102.50L317.50 102.22L318.00 102.22L318.50 102.02L319.00 102.12L319.50 102.39L320.00 101.91L320.50 102.19L321.00 102.31L321.50 102.06L322.00 102.14L322.50 101.82L323.00 102.26L323.50 102.16L324.00 101.93L324.50 101.46L325.00 101.53L325.50 101.86L326.00 101.93L326.50 101.56L327.00 101.66L327.50 101.19L328.00 101.17L328.50 101.11L329.00 101.08L329.50 100.59L330.00 100.97L330.50 100.95L331.00 100.35L331.50 100.22L332.00 100.48L332.50 100.21L333.00 99.81L333.50 100.41L334.00 100.26L334.50 100.12L335.00 100.65L335.50 100.28L336.00 100.14L336.50 100.36L337.00 100.19L337.50 100.30L338.00 100.59L338.50 100.46L339.00 100.55L339.50 101.03L340.00 100.93L340.50 100.97L341.00 100.97L341.50 101.02L342.00 101.26L342.50 101.01L343.00 101.43L343.50 100.90L344.00 101.07L344.50 100.88L345.00 101.11L345.50 101.30L346.00 101.51L346.50 101.10L347.00 101.25L347.50 101.19L348.00 101.13L348.50 101.05L349.00 101.31L349.50 100.96L350.00 101.34L350.50 101.33L351.00 101.20L351.50 101.14L352.00 101.07L352.50 101.73L353.00 101.09L353.50 101.68L354.00 101.49L354.50 101.31L355.00 101.16L355.50 101.60L356.00 101.75L356.50 101.22L357.00 101.36L357.50 101.64L358.00 101.50L358.50 101.85L359.00 101.34L359.50 101.57L360.00 101.23L360.50 101.91L361.00 101.35L361.50 101.07L362.00 101.50L362.50 101.51L363.00 101.93L363.50 101.49L364.00 101.57L364.50 101.71L365.00 101.92L365.50 101.61L366.00 101.84L366.50 101.76L367.00 101.61L367.50 101.70L368.00 101.71L368.50 101.54L369.00 101.99L369.50 101.49L370.00 102.02L370.50 102.00L371.00 101.81L371.50 101.70L372.00 101.83"/>
<path d="M20.0 180.49L20.50 180.85L21.00 181.06L21.50 181.49L22.00 181.46L22.50 181.88L23.00 181.78L23.50 182.49L24.00 182.60L24.50 182.71L25.00 183.23L25.50 183.33L26.00 182.81L26.50 183.56L27.00 183.42L27.50 184.09L28.00 184.53L28.50 184.07L29.00 184.34L29.50 184.41L30.00 184.67L30.50 184.86L31.00 185.13L31.50 184.81L32.00 185.45L32.50 185.08L33.00 185.45L33.50 185.76L34.00 185.79L34.50 185.58L35.00 185.75L35.50 185.92L36.00 186.11L36.50 186.46L37.00 186.08L37.50 186.54L38.00 186.67L38.50 186.75L39.00 186.82L39.50 187.12L40.00 187.00L40.50 187.15L41.00 187.16L41.50 187.48L42.00 186.82L42.50 187.52L43.00 187.28L43.50 187.34L44.00 187.27L44.50 187.15L45.00 187.51L45.50 187.51L46.00 187.80L46.50 187.46L47.00 188.09L47.50 187.91L48.00 187.86L48.50 187.82L49.00 187.85L49.50 187.83L50.00 187.99L50.50 188.14L51.00 188.15L51.50 187.94L52.00 188.21L52.50 188.12L53.00 188.37L53.50 188.75L54.00 188.54L54.50 188.39L55.00 188.16L55.50 188.23L56.00 188.21L56.50 188.73L57.00 188.46L57.50 188.66L58.00 188.55L58.50 188.73L59.00 189.02L59.50 188.63L60.00 188.73L60.50 188.67L61.00 189.03L61.50 188.68L62.00 188.69L62.50 188.68L63.00 188.70L63.50 189.11L64.00 189.57L64.50 188.89L65.00 189.31L65.50 189.20L66.00 188.97L66.50 189.17L67.00 189.21L67.50 189.15L68.00 189.71L68.50 188.97L69.00 189.46L69.50 189.48L70.00 189.33L70.50 189.50L71.00 189.68L71.50 189.56L72.00 189.64L72.50 189.72L73.00 189.20L73.50 189.93L74.00 190.11L74.50 189.87L75.00 189.90L75.50 189.43L76.00 189.71L76.50 189.58L77.00 189.64L77.50 189.96L78.00 189.62L78.50 189.76L79.00 189.41L79.50 189.76L80.00 189.81L80.50 189.65L81.00 189.65L81.50 190.17L82.00 189.55L82.50 189.58L83.00 189.62L83.50 190.02L84.00 190.20L84.50 189.84L85.00 189.63L85.50 189.68L86.00 189.97L86.50 189.57L87.00 190.04L87.50 190.02L88.00 189.75L88.50 189.86L89.00 189.87L89.50 190.02L90.00 189.49L90.50 189.93L91.00 189.61L91.50 189.52L92.00 189.69L92.50 189.62L93.00 189.45L93.50 189.32L94.00 189.44L94.50 189.91L95.00 190.00L95.50 189.73L96.00 189.82L96.50 189.47L97.00 189.55L97.50 189.61L98.00 189.32L98.50 189.33L99.00 189.54L99.50 189.44L100.00 189.28L100.50 189.56L101.00 189.41L101.50 189.66L102.00 189.43L102.50 189.36L103.00 189.42L103.50 189.34L104.00 189.22L104.50 189.25L105.00 189.46L105.50 189.41L106.00 189.52L106.50 188.90L107.00 189.13L107.50 189.10L108.00 189.19L108.50 189.03L109.00 188.99L109.50 189.22L110.00 189.07L110.50 188.77L111.00 189.23L111.50 189.14L112.00 188.79L112.50 189.04L113.00 188.69L113.50 189.03L114.00 188.73L114.50 188.58L115.00 188.63L115.50 188.52L116.00 188.68L116.50 188.64L117.00 188.58L117.50 188.43L118.00 187.78L118.50 188.50L119.00 188.07L119.50 188.47L120.00 188.61L120.50 188.41L121.00 188.25L121.50 188.26L122.00 188.23L122.50 188.12L123.00 188.08L123.50 187.97L124.00 188.36L124.50 188.08L125.00 188.24L125.50 187.97L126.00 187.99L126.50 187.91L127.00 188.00L127.50 188.03L128.00 187.88L128.50 187.66L129.00 187.60L129.50 188.05L130.00 187.63L130.50 187.59L131.00 187.90L131.50 187.79L132.00 187.64L132.50 187.42L133.00 187.94L133.50 187.51L134.00 187.51L134.50 187.33L135.00 187.05L135.50 187.03L136.00 187.35L136.50 187.32L137.00 187.16L137.50 186.95L138.00 186.86L138.50 187.06L139.00 186.80L139.50 187.24L140.00 187.26L140.50 187.57L141.00 187.13L141.10 186.83L141.20 186.76L141.30 186.24L141.40 186.79L141.50 186.86L141.60 187.08L141.70 186.99L141.80 186.96L141.90 186.87L142.00 186.93L142.10 187.06L142.20 186.52L142.30 186.60L142.40 186.35L142.50 186.87L142.60 186.67L142.70 186.31L142.80 185.48L142.90 185.00L143.00 183.72L143.10 182.07L143.20 179.89L143.30 177.77L143.40 175.76L143.50 175.29L143.60 175.88L143.70 177.59L143.80 179.87L143.90 181.93L144.00 183.88L144.10 184.86L144.20 185.72L144.30 186.01L144.40 186.03L144.50 186.64L144.60 186.32L144.70 186.72L144.80 186.70L144.90 186.31L145.00 186.48L145.10 186.58L145.20 186.53L145.30 186.47L145.40 186.86L145.50 186.67L145.60 186.80L145.70 186.64L145.80 186.79L145.90 186.58L146.00 186.73L146.50 186.85L147.00 186.73L147.50 186.62L148.00 186.48L148.50 186.71L149.00 186.73L149.50 186.59L150.00 186.47L150.50 186.71L151.00 187.08L151.50 186.51L152.00 186.62L152.50 186.61L153.00 186.00L153.50 186.52L154.00 186.34L154.50 186.74L155.00 186.39L155.50 186.27L156.00 186.37L156.50 186.43L157.00 186.27L157.50 186.35L158.00 186.07L158.50 186.28L159.00 186.46L159.50 186.68L160.00 186.40L160.50 186.28L161.00 186.43L161.50 186.35L162.00 186.43L162.50 186.25L163.00 185.94L163.50 185.92L164.00 185.81L164.50 185.72L165.00 185.56L165.50 185.22L166.00 184.80L166.50 184.91L167.00 184.47L167.50 184.71L168.00 184.52L168.50 184.02L169.00 184.36L169.50 184.29L170.00 184.08L170.50 184.40L171.00 184.49L171.50 183.98L172.00 184.57L172.50 184.63L173.00 184.82L173.50 185.13L174.00 185.00L174.50 185.23L175.00 185.38L175.50 185.57L176.00 185.87L176.50 185.75L177.00 185.97L177.50 186.41L178.00 186.39L178.50 186.57L179.00 186.20L179.50 186.49L180.00 186.60L180.50 186.77L181.00 186.70L181.50 187.04L182.00 186.89L182.50 186.94L183.00 186.97L183.50 187.14L184.00 186.93L184.50 187.28L185.00 187.18L185.50 187.14L186.00 187.14L186.50 187.26L187.00 187.39L187.50 187.40L188.00 187.31L188.50 187.43L189.00 187.30L189.50 187.54L190.00 187.31L190.50 186.92L191.00 187.62L191.50 187.40L192.00 187.16L192.50 187.38L193.00 187.26L193.50 187.88L194.00 187.58L194.50 187.19L195.00 187.63L195.50 187.46L196.00 187.94L196.50 187.36L197.00 187.14L197.50 187.61L198.00 187.54L198.50 187.53L199.00 187.18L199.50 187.68L200.00 187.89L200.50 187.12L200.70 187.69L200.80 187.32L200.90 187.88L201.00 187.46L201.10 187.30L201.20 187.52L201.30 187.36L201.40 187.07L201.50 187.27L201.60 186.94L201.70 186.59L201.80 187.23L201.90 186.61L202.00 186.37L202.10 186.33L202.20 185.64L202.30 185.21L202.40 184.59L202.50 183.05L202.60 180.10L202.70 174.52L202.80 164.45L202.90 150.64L203.00 134.09L203.10 119.13L203.20 113.29L203.30 119.17L203.40 134.19L203.50 150.64L203.60 164.57L203.70 174.05L203.80 180.14L203.90 183.04L204.00 184.87L204.10 185.50L204.20 185.83L204.30 186.50L204.40 186.70L204.50 186.62L204.60 187.13L204.70 186.96L204.80 187.06L204.90 187.23L205.00 187.13L205.10 187.25L205.20 187.37L205.30 187.75L205.40 187.79L205.50 187.47L205.60 187.88L206.00 187.64L206.50 187.81L207.00 187.96L207.50 187.89L208.00 188.34L208.50 187.93L209.00 187.67L209.50 188.19L210.00 187.86L210.50 187.90L211.00 187.37L211.50 188.19L212.00 188.16L212.50 188.17L213.00 188.22L213.50 188.38L214.00 188.04L214.50 188.25L215.00 187.92L215.50 188.01L216.00 188.29L216.50 188.16L217.00 187.81L217.50 188.14L218.00 188.01L218.50 187.84L219.00 188.03L219.50 187.79L220.00 187.45L220.50 187.43L221.00 187.87L221.50 187.09L222.00 187.32L222.50 187.32L223.00 187.31L223.50 186.99L224.00 187.29L224.50 187.56L225.00 187.90L225.50 187.83L226.00 187.93L226.50 188.56L227.00 188.76L227.50 188.76L228.00 188.69L228.50 189.00L229.00 189.03L229.50 189.24L230.00 188.88L230.50 189.19L231.00 189.17L231.50 189.02L232.00 189.31L232.50 189.30L233.00 189.24L233.50 189.42L234.00 189.08L234.50 189.37L235.00 189.49L235.50 189.48L236.00 189.66L236.50 189.22L237.00 189.17L237.50 189.54L238.00 189.59L238.50 189.94L239.00 189.65L239.50 189.37L240.00 189.72L240.50 189.40L241.00 189.28L241.50 190.11L242.00 189.66L242.50 189.75L243.00 189.72L243.50 189.98L244.00 189.68L244.50 189.87L245.00 189.42L245.50 189.35L246.00 189.92L246.50 189.93L247.00 189.73L247.50 189.67L247.70 189.65L247.80 189.48L247.90 189.92L248.00 189.74L248.10 189.71L248.20 189.68L248.30 189.81L248.40 189.69L248.50 189.73L248.60 189.34L248.70 189.67L248.80 189.99L248.90 189.44L249.00 189.50L249.10 189.69L249.20 189.67L249.30 189.56L249.40 189.03L249.50 189.32L249.60 188.74L249.70 188.43L249.80 188.17L249.90 187.33L250.00 186.84L250.10 186.73L250.20 186.02L250.30 186.23L250.40 186.47L250.50 187.22L250.60 187.79L250.70 188.43L250.80 188.68L250.90 188.99L251.00 189.21L251.10 189.11L251.20 189.06L251.30 189.09L251.40 189.45L251.50 189.37L251.60 189.56L251.70 189.56L251.80 189.28L251.90 189.47L252.00 189.03L252.10 189.77L252.20 189.53L252.30 189.24L252.40 189.03L252.50 189.32L252.60 188.85L253.00 188.99L253.50 189.18L254.00 188.92L254.50 188.68L255.00 188.87L255.50 188.40L256.00 188.64L256.50 188.51L257.00 188.52L257.50 188.90L258.00 188.74L258.50 189.45L259.00 189.09L259.50 189.72L260.00 189.20L260.50 189.62L261.00 189.33L261.50 189.35L262.00 189.70L262.50 189.83L263.00 189.47L263.50 189.98L264.00 189.60L264.50 189.80L265.00 189.86L265.50 189.91L266.00 189.44L266.50 190.13L267.00 189.93L267.50 189.74L268.00 189.63L268.50 189.50L269.00 189.57L269.50 189.96L270.00 189.79L270.50 189.64L271.00 189.77L271.50 190.19L272.00 189.82L272.50 189.78L273.00 190.17L273.50 190.00L274.00 189.92L274.50 189.80L275.00 189.62L275.50 189.70L276.00 189.85L276.50 189.90L277.00 190.03L277.50 190.07L278.00 190.01L278.50 190.02L279.00 189.78L279.50 189.56L280.00 189.90L280.50 189.82L281.00 189.88L281.50 189.97L282.00 189.78L282.50 189.81L283.00 190.02L283.50 190.07L284.00 189.92L284.50 190.16L285.00 190.02L285.50 189.87L286.00 190.08L286.50 190.45L287.00 189.94L287.50 190.31L288.00 190.34L288.10 190.36L288.20 189.89L288.30 190.45L288.40 190.07L288.50 189.99L288.60 189.98L288.70 190.14L288.80 190.02L288.90 189.96L289.00 190.23L289.10 189.81L289.20 189.72L289.30 190.05L289.40 189.99L289.50 190.00L289.60 189.44L289.70 189.66L289.80 189.16L289.90 188.75L290.00 187.08L290.10 185.86L290.20 183.87L290.30 181.60L290.40 180.16L290.50 179.89L290.60 180.21L290.70 181.78L290.80 184.11L290.90 186.03L291.00 187.54L291.10 188.25L291.20 189.07L291.30 189.67L291.40 189.55L291.50 189.65L291.60 190.04L291.70 190.24L291.80 189.73L291.90 189.47L292.00 189.73L292.10 189.84L292.20 190.03L292.30 190.19L292.40 190.05L292.50 189.95L292.60 190.13L292.70 189.92L292.80 190.11L292.90 190.00L293.00 190.67L293.50 190.32L294.00 190.01L294.50 189.99L295.00 190.11L295.50 189.88L296.00 190.07L296.50 190.08L297.00 190.41L297.50 190.15L298.00 190.09L298.50 189.98L299.00 190.02L299.50 190.25L300.00 190.22L300.50 190.50L301.00 190.15L301.50 190.49L302.00 190.34L302.50 190.29L303.00 189.89L303.50 190.04L304.00 190.45L304.50 190.58L305.00 190.35L305.50 190.46L306.00 190.23L306.50 190.24L307.00 190.19L307.50 190.52L308.00 190.39L308.50 190.28L309.00 190.26L309.50 190.44L310.00 190.40L310.50 190.17L311.00 190.68L311.50 190.39L312.00 190.34L312.50 190.64L313.00 190.55L313.50 190.33L314.00 190.45L314.50 190.13L315.00 190.22L315.50 189.89L316.00 190.59L316.50 189.96L317.00 190.48L317.50 190.18L318.00 190.15L318.50 190.30L319.00 190.39L319.50 190.46L320.00 190.69L320.50 190.40L321.00 190.50L321.50 190.20L322.00 190.45L322.50 190.33L323.00 190.20L323.50 190.25L324.00 190.24L324.50 190.27L324.60 190.30L324.70 190.11L324.80 190.06L324.90 190.35L325.00 189.85L325.10 190.06L325.20 190.48L325.30 189.62L325.40 190.01L325.50 190.27L325.60 189.79L325.70 190.62L325.80 189.55L325.90 190.33L326.00 190.31L326.10 190.12L326.20 189.78L326.30 189.69L326.40 189.10L326.50 188.91L326.60 187.76L326.70 186.98L326.80 186.24L326.90 185.00L327.00 184.82L327.10 185.24L327.20 185.73L327.30 187.21L327.40 187.97L327.50 188.34L327.60 189.14L327.70 189.32L327.80 189.52L327.90 189.76L328.00 189.64L328.10 190.00L328.20 189.67L328.30 190.01L328.40 189.80L328.50 189.97L328.60 189.69L328.70 189.68L328.80 189.54L328.90 189.87L329.00 189.93L329.10 190.15L329.20 189.96L329.30 189.73L329.40 189.62L329.50 189.72L330.00 189.51L330.50 189.67L331.00 189.40L331.50 188.87L332.00 188.71L332.50 188.92L333.00 188.51L333.50 188.21L334.00 188.31L334.50 187.85L335.00 187.76L335.50 187.67L336.00 187.37L336.50 187.99L337.00 187.68L337.50 187.96L338.00 188.11L338.50 188.60L339.00 188.65L339.50 188.88L340.00 188.75L340.50 189.26L341.00 189.16L341.50 189.68L342.00 189.83L342.50 189.88L343.00 190.41L343.50 190.20L344.00 190.30L344.50 190.28L345.00 190.27L345.50 190.55L346.00 190.62L346.50 190.18L347.00 190.68L347.50 190.60L348.00 190.72L348.50 190.64L349.00 190.32L349.50 190.35L350.00 190.97L350.50 190.67L351.00 190.35L351.50 190.72L352.00 190.59L352.50 190.31L353.00 190.23L353.50 190.38L354.00 190.77L354.50 190.72L355.00 190.69L355.50 190.80L356.00 190.87L356.50 190.34L357.00 190.70L357.50 190.59L358.00 190.50L358.10 190.63L358.20 190.71L358.30 190.67L358.40 190.43L358.50 190.61L358.60 191.10L358.70 190.48L358.80 190.33L358.90 190.71L359.00 190.75L359.10 190.70L359.20 190.35L359.30 190.73L359.40 190.32L359.50 190.17L359.60 190.17L359.70 190.08L359.80 189.91L359.90 189.29L360.00 188.11L360.10 186.63L360.20 184.08L360.30 181.27L360.40 177.67L360.50 175.09L360.60 174.55L360.70 175.13L360.80 177.90L360.90 181.09L361.00 183.99L361.10 186.38L361.20 188.43L361.30 188.69L361.40 189.99L361.50 190.61L361.60 190.34L361.70 190.45L361.80 190.68L361.90 190.96L362.00 190.40L362.10 190.69L362.20 190.67L362.30 190.85L362.40 190.79L362.50 190.91L362.60 190.71L362.70 190.82L362.80 190.69L362.90 190.71L363.00 190.82L363.50 190.87L364.00 190.69L364.50 191.27L365.00 190.95L365.50 190.71L366.00 191.23L366.50 190.87L367.00 191.14L367.50 191.05L368.00 191.12L368.50 191.11L369.00 190.98L369.50 191.12L370.00 191.53L370.50 190.69L371.00 191.16L371.50 191.25L372.00 190.96"/>
<path d="M20.0 318.02L20.50 318.91L21.00 318.59L21.50 319.25L22.00 319.12L22.50 319.20L23.00 319.45L23.50 319.64L24.00 319.92L24.50 319.93L25.00 320.03L25.50 320.19L26.00 320.59L26.50 320.64L27.00 320.43L27.50 320.66L28.00 321.01L28.50 320.96L29.00 321.15L29.50 321.16L30.00 321.42L30.50 321.66L31.00 321.87L31.50 321.77L32.00 322.27L32.50 321.93L33.00 322.67L33.50 322.32L34.00 322.30L34.50 322.17L35.00 321.79L35.50 322.39L36.00 322.53L36.50 322.95L37.00 322.36L37.50 323.08L38.00 322.72L38.50 322.97L39.00 322.38L39.50 322.98L40.00 322.94L40.50 323.20L41.00 323.13L41.50 322.94L42.00 323.40L42.50 323.40L43.00 323.43L43.50 323.56L44.00 323.62L44.50 323.44L45.00 323.21L45.50 323.25L46.00 323.84L46.50 323.75L47.00 323.67L47.50 323.60L48.00 323.73L48.50 323.77L49.00 323.74L49.50 323.70L50.00 324.31L50.50 323.96L51.00 323.83L51.50 323.72L52.00 323.87L52.50 324.19L53.00 324.23L53.50 324.07L54.00 324.15L54.50 324.11L55.00 323.97L55.50 324.48L56.00 324.32L56.50 324.77L57.00 324.14L57.50 324.29L58.00 324.51L58.50 324.30L59.00 324.09L59.50 324.19L60.00 324.42L60.50 324.48L61.00 324.41L61.50 324.64L62.00 324.65L62.50 324.53L63.00 324.48L63.50 324.44L64.00 324.61L64.50 324.70L65.00 324.54L65.50 324.63L66.00 324.48L66.50 324.28L67.00 324.37L67.50 324.74L68.00 324.68L68.50 324.92L69.00 324.63L69.50 324.80L70.00 324.90L70.50 324.85L71.00 324.54L71.50 324.64L72.00 324.71L72.50 324.50L73.00 324.80L73.50 324.92L74.00 324.63L74.50 325.13L75.00 324.68L75.50 324.71L76.00 324.71L76.50 324.63L77.00 324.86L77.50 324.79L78.00 325.13L78.50 324.93L79.00 324.92L79.50 324.78L80.00 324.55L80.50 324.82L81.00 324.67L81.50 325.04L82.00 324.85L82.50 325.20L83.00 325.02L83.50 325.05L84.00 324.93L84.50 324.94L85.00 325.03L85.50 325.09L86.00 324.77L86.50 325.02L87.00 325.45L87.50 324.91L88.00 324.88L88.50 324.80L89.00 324.65L89.50 325.19L90.00 324.96L90.50 325.02L91.00 325.33L91.50 325.47L92.00 324.79L92.50 325.18L93.00 325.10L93.50 325.06L94.00 325.08L94.50 324.98L95.00 325.30L95.50 325.11L96.00 325.06L96.50 325.24L97.00 325.17L97.50 325.08L98.00 325.06L98.50 325.35L99.00 325.10L99.50 324.98L100.00 324.82L100.50 324.93L101.00 324.78L101.50 325.01L102.00 325.03L102.50 324.56L103.00 324.97L103.50 325.08L104.00 324.97L104.50 324.74L105.00 325.17L105.50 324.76L106.00 324.63L106.50 324.64L107.00 324.84L107.50 325.02L108.00 325.03L108.50 324.82L109.00 324.51L109.50 324.60L110.00 324.53L110.50 324.64L111.00 324.30L111.50 324.65L112.00 324.73L112.50 324.55L113.00 324.64L113.50 324.33L114.00 324.20L114.50 324.34L115.00 324.67L115.50 324.62L116.00 324.29L116.50 324.60L117.00 324.27L117.50 324.61L118.00 324.38L118.50 324.16L119.00 324.39L119.50 324.05L120.00 323.99L120.50 323.87L121.00 324.19L121.50 324.10L122.00 324.08L122.50 323.99L123.00 324.34L123.50 323.95L124.00 323.87L124.50 324.25L125.00 324.27L125.50 324.04L126.00 323.61L126.50 323.83L127.00 324.05L127.50 323.92L128.00 324.21L128.50 323.62L129.00 324.01L129.50 323.74L130.00 324.11L130.50 323.82L131.00 324.02L131.50 323.67L132.00 323.51L132.50 323.55L133.00 323.64L133.50 323.54L134.00 323.97L134.50 323.99L135.00 323.76L135.50 323.48L136.00 323.65L136.50 323.52L137.00 323.94L137.50 323.69L138.00 323.71L138.50 323.52L139.00 323.18L139.50 323.41L140.00 323.32L140.50 323.59L141.00 323.50L141.10 323.31L141.20 323.38L141.30 323.76L141.40 323.24L141.50 323.23L141.60 323.36L141.70 323.24L141.80 323.28L141.90 323.45L142.00 323.66L142.10 322.92L142.20 323.23L142.30 323.20L142.40 323.11L142.50 323.01L142.60 322.86L142.70 322.92L142.80 322.27L142.90 321.69L143.00 320.60L143.10 318.85L143.20 316.26L143.30 313.34L143.40 309.80L143.50 307.13L143.60 306.01L143.70 306.89L143.80 309.63L143.90 312.92L144.00 316.32L144.10 318.67L144.20 320.37L144.30 321.74L144.40 322.44L144.50 322.34L144.60 323.23L144.70 323.02L144.80 323.07L144.90 323.36L145.00 323.21L145.10 323.11L145.20 323.70L145.30 323.07L145.40 323.29L145.50 323.49L145.60 323.12L145.70 323.33L145.80 323.44L145.90 323.85L146.00 323.20L146.50 323.40L147.00 323.55L147.50 323.45L148.00 323.20L148.50 323.52L149.00 323.46L149.50 323.53L150.00 323.67L150.50 323.64L151.00 323.52L151.50 323.50L152.00 323.22L152.50 323.41L153.00 323.48L153.50 323.36L154.00 323.46L154.50 323.27L155.00 323.74L155.50 323.86L156.00 323.35L156.50 323.50L157.00 323.37L157.50 323.67L158.00 323.50L158.50 323.42L159.00 323.35L159.50 323.41L160.00 323.18L160.50 323.50L161.00 323.20L161.50 323.43L162.00 323.32L162.50 323.48L163.00 323.22L163.50 323.37L164.00 322.93L164.50 323.16L165.00 322.92L165.50 322.91L166.00 322.78L166.50 322.85L167.00 322.14L167.50 322.48L168.00 321.99L168.50 322.40L169.00 321.65L169.50 321.74L170.00 321.52L170.50 322.14L171.00 321.54L171.50 321.84L172.00 321.77L172.50 321.60L173.00 322.01L173.50 322.33L174.00 322.30L174.50 322.66L175.00 322.53L175.50 322.74L176.00 322.78L176.50 323.03L177.00 323.44L177.50 323.22L178.00 323.27L178.50 323.17L179.00 323.20L179.50 323.69L180.00 323.22L180.50 323.29L181.00 323.49L181.50 323.45L182.00 323.95L182.50 323.10L183.00 323.66L183.50 323.75L184.00 323.39L184.50 323.50L185.00 323.73L185.50 323.98L186.00 323.48L186.50 323.36L187.00 323.88L187.50 323.99L188.00 323.63L188.50 323.26L189.00 324.00L189.50 323.68L190.00 323.95L190.50 323.72L191.00 323.66L191.50 323.65L192.00 324.05L192.50 324.04L193.00 323.34L193.50 323.58L194.00 324.13L194.50 323.71L195.00 323.51L195.50 323.79L196.00 323.77L196.50 323.77L197.00 323.69L197.50 323.72L198.00 323.69L198.50 323.83L199.00 323.57L199.50 323.63L200.00 323.60L200.50 323.77L200.80 323.48L200.90 323.34L201.00 323.42L201.10 323.33L201.20 323.40L201.30 323.21L201.40 323.37L201.50 323.18L201.60 322.78L201.70 322.55L201.80 322.63L201.90 322.34L202.00 321.96L202.10 321.35L202.20 320.86L202.30 320.73L202.40 319.97L202.50 318.55L202.60 315.39L202.70 310.35L202.80 299.64L202.90 282.34L203.00 257.22L203.10 227.26L203.20 201.08L203.30 189.83L203.40 201.02L203.50 227.07L203.60 257.24L203.70 282.30L203.80 299.96L203.90 310.25L204.00 315.55L204.10 318.51L204.20 319.79L204.30 320.83L204.40 321.35L204.50 321.51L204.60 322.05L204.70 322.33L204.80 322.48L204.90 322.90L205.00 323.22L205.10 322.93L205.20 323.05L205.30 322.76L205.40 323.27L205.50 323.28L205.60 323.00L205.70 323.55L206.00 323.75L206.50 323.64L207.00 323.81L207.50 323.76L208.00 324.17L208.50 323.75L209.00 324.03L209.50 324.52L210.00 324.16L210.50 324.27L211.00 324.17L211.50 323.99L212.00 324.24L212.50 324.34L213.00 324.08L213.50 324.37L214.00 324.56L214.50 324.54L215.00 324.03L215.50 324.16L216.00 324.04L216.50 324.59L217.00 324.50L217.50 324.52L218.00 324.19L218.50 324.12L219.00 324.35L219.50 324.31L220.00 324.07L220.50 324.21L221.00 324.23L221.50 324.06L222.00 323.71L222.50 323.41L223.00 323.70L223.50 323.74L224.00 323.65L224.50 323.65L225.00 323.68L225.50 324.07L226.00 324.04L226.50 324.20L227.00 324.10L227.50 324.27L228.00 324.53L228.50 324.37L229.00 324.39L229.50 324.63L230.00 324.98L230.50 324.82L231.00 325.10L231.50 324.81L232.00 324.80L232.50 324.60L233.00 324.78L233.50 325.20L234.00 324.99L234.50 325.09L235.00 325.10L235.50 324.97L236.00 324.94L236.50 325.02L237.00 325.14L237.50 325.11L238.00 325.12L238.50 325.06L239.00 324.89L239.50 325.00L240.00 324.87L240.50 325.27L241.00 324.65L241.50 325.03L242.00 325.56L242.50 325.02L243.00 324.87L243.50 325.09L244.00 325.36L244.50 325.07L245.00 325.23L245.50 325.13L246.00 325.03L246.50 325.73L247.00 325.11L247.50 324.98L247.70 324.98L247.80 325.15L247.90 325.15L248.00 325.22L248.10 325.08L248.20 324.76L248.30 325.14L248.40 324.96L248.50 324.96L248.60 324.70L248.70 324.87L248.80 324.82L248.90 324.93L249.00 324.61L249.10 324.87L249.20 324.82L249.30 324.47L249.40 324.38L249.50 324.00L249.60 323.78L249.70 322.18L249.80 321.31L249.90 319.42L250.00 317.95L250.10 316.81L250.20 315.96L250.30 316.66L250.40 317.85L250.50 320.12L250.60 321.53L250.70 322.87L250.80 323.29L250.90 323.90L251.00 324.66L251.10 324.58L251.20 324.66L251.30 324.84L251.40 324.55L251.50 324.98L251.60 324.84L251.70 324.95L251.80 324.72L251.90 324.96L252.00 324.72L252.10 325.05L252.20 325.08L252.30 325.03L252.40 324.95L252.50 324.96L252.60 324.29L253.00 324.95L253.50 324.66L254.00 324.66L254.50 324.51L255.00 324.22L255.50 324.35L256.00 324.58L256.50 324.75L257.00 324.40L257.50 324.42L258.00 324.98L258.50 324.61L259.00 325.29L259.50 324.96L260.00 324.84L260.50 325.28L261.00 325.46L261.50 324.88L262.00 325.51L262.50 325.16L263.00 325.53L263.50 325.17L264.00 324.95L264.50 325.37L265.00 325.47L265.50 325.71L266.00 325.64L266.50 325.44L267.00 325.27L267.50 325.22L268.00 325.27L268.50 325.17L269.00 325.28L269.50 324.84L270.00 325.39L270.50 325.35L271.00 325.88L271.50 325.52L272.00 325.28L272.50 325.49L273.00 325.14L273.50 325.27L274.00 325.02L274.50 325.69L275.00 325.53L275.50 325.18L276.00 325.41L276.50 325.62L277.00 325.54L277.50 325.52L278.00 325.28L278.50 325.33L279.00 325.48L279.50 325.66L280.00 325.31L280.50 325.26L281.00 325.72L281.50 325.32L282.00 325.73L282.50 325.57L283.00 325.71L283.50 325.89L284.00 325.69L284.50 325.72L285.00 325.39L285.50 325.44L286.00 325.72L286.50 325.90L287.00 325.88L287.50 326.06L288.00 325.66L288.20 325.63L288.30 325.78L288.40 325.58L288.50 325.56L288.60 325.35L288.70 325.75L288.80 325.33L288.90 325.63L289.00 325.23L289.10 325.72L289.20 325.27L289.30 325.61L289.40 325.09L289.50 325.27L289.60 325.53L289.70 325.03L289.80 325.04L289.90 324.64L290.00 323.73L290.10 323.31L290.20 321.84L290.30 319.40L290.40 317.07L290.50 313.97L290.60 311.65L290.70 310.95L290.80 311.72L290.90 314.60L291.00 316.66L291.10 319.79L291.20 321.98L291.30 322.89L291.40 323.88L291.50 324.89L291.60 324.99L291.70 325.33L291.80 325.59L291.90 325.35L292.00 325.27L292.10 324.98L292.20 325.60L292.30 325.40L292.40 325.68L292.50 325.68L292.60 325.38L292.70 326.02L292.80 325.90L292.90 325.87L293.00 325.47L293.10 325.64L293.50 325.65L294.00 325.71L294.50 325.59L295.00 325.92L295.50 325.90L296.00 325.95L296.50 325.79L297.00 326.16L297.50 325.95L298.00 325.38L298.50 325.81L299.00 325.94L299.50 326.16L300.00 325.91L300.50 325.93L301.00 325.86L301.50 326.14L302.00 325.92L302.50 325.90L303.00 325.88L303.50 326.15L304.00 325.94L304.50 325.72L305.00 326.19L305.50 325.94L306.00 326.16L306.50 326.17L307.00 326.34L307.50 326.32L308.00 326.01L308.50 326.10L309.00 325.88L309.50 326.48L310.00 326.24L310.50 326.44L311.00 326.10L311.50 325.76L312.00 326.49L312.50 326.20L313.00 326.22L313.50 326.21L314.00 326.33L314.50 326.31L315.00 325.89L315.50 326.43L316.00 326.11L316.50 326.13L317.00 326.57L317.50 326.41L318.00 326.15L318.50 325.85L319.00 326.25L319.50 326.33L320.00 326.20L320.50 325.96L321.00 326.05L321.50 325.95L322.00 326.24L322.50 326.35L323.00 326.38L323.50 326.02L324.00 326.20L324.50 326.24L324.60 326.02L324.70 326.08L324.80 326.53L324.90 326.14L325.00 326.26L325.10 325.99L325.20 326.07L325.30 325.71L325.40 326.03L325.50 326.26L325.60 326.42L325.70 326.22L325.80 326.09L325.90 325.93L326.00 325.76L326.10 325.79L326.20 325.84L326.30 325.38L326.40 325.41L326.50 324.49L326.60 323.47L326.70 322.41L326.80 320.75L326.90 319.20L327.00 318.40L327.10 317.61L327.20 318.20L327.30 319.68L327.40 321.29L327.50 322.45L327.60 324.02L327.70 324.67L327.80 325.12L327.90 325.51L328.00 325.30L328.10 325.51L328.20 325.69L328.30 325.86L328.40 325.68L328.50 325.74L328.60 325.97L328.70 326.06L328.80 325.93L328.90 326.03L329.00 325.69L329.10 325.70L329.20 325.81L329.30 325.68L329.40 325.63L329.50 326.05L330.00 325.60L330.50 325.36L331.00 325.54L331.50 325.69L332.00 325.20L332.50 325.29L333.00 324.82L333.50 324.66L334.00 324.49L334.50 324.48L335.00 324.79L335.50 324.13L336.00 324.67L336.50 324.17L337.00 324.38L337.50 324.69L338.00 324.77L338.50 324.84L339.00 324.60L339.50 325.15L340.00 325.02L340.50 325.87L341.00 325.44L341.50 325.64L342.00 325.48L342.50 325.71L343.00 325.63L343.50 326.15L344.00 325.96L344.50 326.18L345.00 325.97L345.50 326.04L346.00 326.43L346.50 326.00L347.00 325.85L347.50 326.31L348.00 326.01L348.50 326.16L349.00 326.44L349.50 326.11L350.00 326.45L350.50 326.15L351.00 326.59L351.50 326.56L352.00 326.21L352.50 326.26L353.00 326.14L353.50 326.35L354.00 326.54L354.50 326.02L355.00 326.50L355.50 326.05L356.00 326.14L356.50 325.95L357.00 326.72L357.50 326.29L358.00 326.31L358.40 326.10L358.50 326.44L358.60 325.79L358.70 326.20L358.80 326.63L358.90 326.09L359.00 326.15L359.10 326.26L359.20 325.94L359.30 326.07L359.40 326.22L359.50 326.03L359.60 326.00L359.70 325.79L359.80 325.83L359.90 325.63L360.00 325.67L360.10 325.10L360.20 324.13L360.30 322.35L360.40 320.86L360.50 317.84L360.60 313.71L360.70 309.49L360.80 306.42L360.90 305.55L361.00 306.43L361.10 309.80L361.20 313.94L361.30 317.93L361.40 320.72L361.50 322.83L361.60 324.08L361.70 325.29L361.80 325.60L361.90 325.61L362.00 325.49L362.10 325.71L362.20 326.06L362.30 325.85L362.40 326.22L362.50 326.15L362.60 326.17L362.70 326.27L362.80 326.26L362.90 326.01L363.00 326.13L363.10 326.68L363.20 325.98L363.30 326.14L363.50 326.47L364.00 326.26L364.50 326.15L365.00 326.06L365.50 326.45L366.00 326.55L366.50 326.63L367.00 326.37L367.50 326.57L368.00 326.16L368.50 326.40L369.00 326.23L369.50 326.41L370.00 326.52L370.50 326.59L371.00 326.18L371.50 326.63L372.00 326.28"/>
<path d="M20.0 339.09L20.50 339.94L21.00 340.35L21.50 341.28L22.00 341.95L22.50 342.44L23.00 343.14L23.50 343.47L24.00 344.00L24.50 344.14L25.00 344.87L25.50 345.11L26.00 345.60L26.50 346.06L27.00 346.50L27.50 346.49L28.00 346.84L28.50 347.40L29.00 347.83L29.50 348.05L30.00 348.37L30.50 348.63L31.00 348.61L31.50 348.65L32.00 348.58L32.50 348.72L33.00 348.94L33.50 349.20L34.00 349.31L34.50 349.37L35.00 349.44L35.50 349.70L36.00 349.70L36.50 349.81L37.00 349.90L37.50 349.81L38.00 349.79L38.50 350.17L39.00 350.22L39.50 350.16L40.00 350.19L40.50 350.79L41.00 350.24L41.50 350.41L42.00 350.56L42.50 350.32L43.00 350.63L43.50 351.01L44.00 350.88L44.50 350.87L45.00 350.91L45.50 350.85L46.00 351.07L46.50 350.89L47.00 350.88L47.50 351.02L48.00 351.22L48.50 351.15L49.00 351.26L49.50 350.75L50.00 351.43L50.50 351.70L51.00 351.53L51.50 351.23L52.00 351.15L52.50 351.40L53.00 351.18L53.50 351.54L54.00 351.31L54.50 351.63L55.00 351.73L55.50 351.06L56.00 351.54L56.50 351.35L57.00 351.22L57.50 351.38L58.00 351.46L58.50 351.72L59.00 351.21L59.50 351.73L60.00 351.93L60.50 351.65L61.00 351.64L61.50 351.54L62.00 351.31L62.50 351.66L63.00 351.63L63.50 351.70L64.00 352.07L64.50 351.71L65.00 351.65L65.50 351.89L66.00 351.31L66.50 351.35L67.00 351.51L67.50 351.46L68.00 351.73L68.50 351.53L69.00 351.95L69.50 351.91L70.00 351.76L70.50 351.53L71.00 351.73L71.50 351.78L72.00 351.40L72.50 351.69L73.00 351.76L73.50 351.67L74.00 351.94L74.50 351.87L75.00 351.47L75.50 351.66L76.00 351.47L76.50 351.76L77.00 351.47L77.50 351.83L78.00 351.73L78.50 351.85L79.00 351.62L79.50 351.36L80.00 352.01L80.50 351.62L81.00 351.94L81.50 351.75L82.00 351.80L82.50 352.03L83.00 351.74L83.50 351.95L84.00 351.37L84.50 351.85L85.00 351.63L85.50 351.65L86.00 351.68L86.50 351.75L87.00 352.01L87.50 351.31L88.00 351.69L88.50 351.54L89.00 351.92L89.50 351.60L90.00 351.78L90.50 351.61L91.00 351.82L91.50 351.89L92.00 351.61L92.50 351.70L93.00 351.41L93.50 351.75L94.00 351.86L94.50 351.58L95.00 351.92L95.50 351.28L96.00 351.32L96.50 351.42L97.00 351.60L97.50 351.70L98.00 351.68L98.50 351.68L99.00 351.84L99.50 351.60L100.00 351.44L100.50 351.44L101.00 352.11L101.50 351.21L102.00 351.64L102.50 351.95L103.00 351.74L103.50 351.46L104.00 351.61L104.50 351.76L105.00 351.81L105.50 351.36L106.00 351.67L106.50 351.54L107.00 351.68L107.50 351.70L108.00 351.32L108.50 351.07L109.00 351.40L109.50 351.64L110.00 351.39L110.50 351.26L111.00 351.66L111.50 350.93L112.00 351.28L112.50 350.94L113.00 351.03L113.50 350.99L114.00 351.24L114.50 350.71L115.00 350.75L115.50 350.50L116.00 350.87L116.50 350.65L117.00 350.78L117.50 350.45L118.00 350.55L118.50 350.80L119.00 350.52L119.50 350.65L120.00 350.59L120.50 350.38L121.00 350.11L121.50 350.58L122.00 350.38L122.50 350.51L123.00 349.87L123.50 349.90L124.00 349.76L124.50 349.97L125.00 350.31L125.50 350.18L126.00 350.01L126.50 350.00L127.00 350.08L127.50 349.82L128.00 349.92L128.50 349.82L129.00 349.31L129.50 349.62L130.00 349.93L130.50 349.53L131.00 349.54L131.50 349.40L132.00 349.38L132.50 349.66L133.00 349.33L133.50 349.14L134.00 348.68L134.50 349.15L135.00 348.83L135.50 348.82L136.00 349.31L136.50 349.25L137.00 348.69L137.50 349.21L138.00 349.10L138.50 348.82L139.00 349.10L139.50 348.60L140.00 348.66L140.50 348.58L141.00 348.63L141.50 349.01L142.00 348.55L142.50 348.57L143.00 348.60L143.50 348.81L144.00 348.70L144.50 348.93L145.00 348.62L145.50 348.50L146.00 348.66L146.50 348.76L147.00 348.57L147.50 348.81L148.00 349.12L148.50 348.64L149.00 348.76L149.50 349.03L150.00 348.63L150.50 348.59L151.00 348.54L151.50 348.84L152.00 348.86L152.50 348.73L153.00 348.77L153.50 349.02L154.00 348.94L154.50 348.49L155.00 348.77L155.50 348.79L156.00 348.91L156.50 348.72L157.00 348.64L157.50 348.67L158.00 348.41L158.50 348.75L159.00 348.64L159.50 348.84L160.00 348.53L160.50 348.64L161.00 348.51L161.50 348.47L162.00 348.80L162.50 348.52L163.00 348.65L163.50 348.26L164.00 348.39L164.50 347.89L165.00 347.93L165.50 347.66L166.00 347.55L166.50 347.06L167.00 346.50L167.50 346.16L168.00 345.43L168.50 344.91L169.00 344.40L169.50 343.82L170.00 343.56L170.50 343.72L171.00 343.86L171.50 344.50L172.00 345.23L172.50 345.81L173.00 346.17L173.50 346.56L174.00 347.30L174.50 347.70L175.00 348.29L175.50 348.26L176.00 348.51L176.50 348.87L177.00 348.75L177.50 348.91L178.00 349.36L178.50 349.38L179.00 349.26L179.50 349.23L180.00 349.03L180.50 349.37L181.00 349.30L181.50 349.36L182.00 349.24L182.50 349.36L183.00 349.35L183.50 349.48L184.00 349.72L184.50 349.53L185.00 349.14L185.50 349.30L186.00 349.19L186.50 349.37L187.00 349.65L187.50 349.64L188.00 349.46L188.50 349.65L189.00 349.46L189.50 349.34L190.00 349.36L190.50 349.48L191.00 349.95L191.50 349.42L192.00 349.95L192.50 349.98L193.00 349.69L193.50 349.74L194.00 349.64L194.50 349.77L195.00 349.92L195.50 349.81L196.00 350.02L196.50 350.07L197.00 349.92L197.50 349.93L198.00 349.87L198.50 349.97L199.00 349.69L199.50 350.01L200.00 349.99L200.50 349.79L201.00 350.41L201.50 349.80L202.00 349.84L202.50 350.08L203.00 349.66L203.50 349.91L204.00 349.78L204.50 349.91L205.00 350.09L205.50 350.20L206.00 350.38L206.50 350.34L207.00 350.43L207.50 350.33L208.00 350.14L208.50 350.47L209.00 350.17L209.50 350.17L210.00 350.61L210.50 350.48L211.00 350.39L211.50 350.51L212.00 350.56L212.50 350.13L213.00 350.40L213.50 350.20L214.00 350.47L214.50 350.33L215.00 350.74L215.50 350.59L216.00 350.33L216.50 350.49L217.00 350.25L217.50 350.49L218.00 350.56L218.50 350.46L219.00 349.95L219.50 350.16L220.00 350.18L220.50 349.94L221.00 349.86L221.50 349.09L222.00 349.16L222.50 348.65L223.00 348.63L223.50 348.61L224.00 348.77L224.50 348.75L225.00 349.21L225.50 349.28L226.00 349.55L226.50 350.23L227.00 350.34L227.50 350.22L228.00 350.52L228.50 350.81L229.00 351.20L229.50 351.16L230.00 351.16L230.50 350.69L231.00 351.06L231.50 351.20L232.00 351.21L232.50 351.24L233.00 351.14L233.50 351.56L234.00 351.52L234.50 351.23L235.00 351.07L235.50 351.70L236.00 351.19L236.50 351.56L237.00 351.72L237.50 351.16L238.00 351.43L238.50 351.32L239.00 351.50L239.50 351.48L240.00 351.82L240.50 351.56L241.00 351.46L241.50 351.70L242.00 351.43L242.50 351.42L243.00 351.95L243.50 351.35L244.00 351.43L244.50 351.55L245.00 351.34L245.50 351.14L246.00 351.78L246.50 351.42L247.00 351.47L247.50 351.51L248.00 351.39L248.50 351.37L249.00 351.60L249.50 352.03L250.00 351.67L250.50 351.62L251.00 351.10L251.50 351.29L252.00 350.92L252.50 351.14L253.00 350.73L253.50 350.57L254.00 350.32L254.50 350.05L255.00 349.77L255.50 350.21L256.00 349.96L256.50 350.21L257.00 350.63L257.50 350.80L258.00 351.21L258.50 351.56L259.00 351.56L259.50 351.67L260.00 351.73L260.50 351.97L261.00 351.48L261.50 351.96L262.00 351.74L262.50 351.71L263.00 351.98L263.50 351.92L264.00 352.13L264.50 352.26L265.00 351.59L265.50 352.06L266.00 352.48L266.50 352.28L267.00 352.41L267.50 352.15L268.00 351.86L268.50 351.94L269.00 352.32L269.50 352.38L270.00 352.06L270.50 352.16L271.00 352.28L271.50 351.89L272.00 352.19L272.50 352.59L273.00 352.72L273.50 352.28L274.00 352.68L274.50 352.22L275.00 352.17L275.50 351.90L276.00 352.55L276.50 352.30L277.00 352.86L277.50 352.47L278.00 352.45L278.50 352.07L279.00 352.74L279.50 352.38L280.00 352.43L280.50 352.04L281.00 352.68L281.50 352.70L282.00 352.40L282.50 352.55L283.00 352.63L283.50 352.76L284.00 352.60L284.50 352.94L285.00 352.56L285.50 352.50L286.00 352.55L286.50 352.15L287.00 352.51L287.50 352.89L288.00 352.75L288.50 352.55L289.00 352.80L289.50 352.34L290.00 352.70L290.50 352.88L291.00 352.93L291.50 352.65L292.00 353.00L292.50 353.20L293.00 352.76L293.50 353.00L294.00 352.55L294.50 352.49L295.00 353.01L295.50 352.91L296.00 352.95L296.50 352.80L297.00 352.87L297.50 353.10L298.00 353.29L298.50 352.90L299.00 352.62L299.50 353.21L300.00 353.08L300.50 353.10L301.00 353.01L301.50 353.44L302.00 352.99L302.50 353.08L303.00 352.61L303.50 352.87L304.00 352.85L304.50 352.99L305.00 353.07L305.50 352.85L306.00 353.35L306.50 352.79L307.00 352.92L307.50 353.06L308.00 352.76L308.50 353.13L309.00 353.15L309.50 352.96L310.00 353.41L310.50 353.04L311.00 353.08L311.50 352.84L312.00 352.70L312.50 352.91L313.00 352.97L313.50 352.94L314.00 353.19L314.50 352.56L315.00 352.81L315.50 352.67L316.00 353.31L316.50 352.93L317.00 352.94L317.50 352.82L318.00 353.22L318.50 352.95L319.00 353.08L319.50 352.63L320.00 353.26L320.50 353.11L321.00 353.13L321.50 353.27L322.00 352.98L322.50 352.98L323.00 353.15L323.50 353.08L324.00 352.94L324.50 352.98L325.00 352.86L325.50 353.09L326.00 353.12L326.50 352.91L327.00 353.26L327.50 352.54L328.00 352.76L328.50 353.10L329.00 352.60L329.50 352.27L330.00 352.74L330.50 352.40L331.00 351.82L331.50 351.93L332.00 351.21L332.50 350.71L333.00 350.45L333.50 349.82L334.00 349.11L334.50 348.68L335.00 348.05L335.50 347.92L336.00 347.78L336.50 348.05L337.00 348.16L337.50 348.48L338.00 349.06L338.50 349.86L339.00 350.78L339.50 351.15L340.00 351.28L340.50 351.95L341.00 351.81L341.50 352.47L342.00 352.35L342.50 352.69L343.00 352.74L343.50 352.60L344.00 352.74L344.50 352.45L345.00 352.61L345.50 352.78L346.00 353.30L346.50 352.51L347.00 352.27L347.50 351.91L348.00 352.19L348.50 351.52L349.00 351.61L349.50 351.81L350.00 351.52L350.50 352.16L351.00 352.20L351.50 352.02L352.00 352.19L352.50 352.19L353.00 352.31L353.50 352.80L354.00 352.94L354.50 352.97L355.00 353.02L355.50 352.91L356.00 353.13L356.50 352.79L357.00 353.11L357.50 353.43L358.00 353.41L358.50 353.07L359.00 353.10L359.50 353.45L360.00 353.54L360.50 352.89L361.00 353.11L361.50 353.25L362.00 353.45L362.50 353.05L363.00 353.35L363.50 353.16L364.00 353.70L364.50 353.32L365.00 353.21L365.50 353.17L366.00 353.45L366.50 353.38L367.00 353.03L367.50 353.29L368.00 352.98L368.50 353.10L369.00 352.99L369.50 352.99L370.00 353.12L370.50 353.06L371.00 353.36L371.50 353.42L372.00 353.21"/>
</g>
<g fill="none" stroke-width="1.1">
<path d="M19.4 0.6V355.4" stroke="#1a1a1a"/>
<path d="M18.9 1.15H373.3" stroke="#333" stroke-width="1.2"/>
<path d="M372.75 0.6V355.4" stroke="#333"/>
<path d="M18.9 354.9H373.3" stroke="#333"/>
</g>
<g stroke="#222" stroke-width="1.1"><line x1="64.0" y1="355" x2="64.0" y2="362"/><line x1="125.5" y1="355" x2="125.5" y2="362"/><line x1="187.0" y1="355" x2="187.0" y2="362"/><line x1="248.5" y1="355" x2="248.5" y2="362"/><line x1="310.0" y1="355" x2="310.0" y2="362"/><line x1="371.5" y1="355" x2="371.5" y2="362"/></g>
<g font-size="16.5"><text x="64.0" y="380" text-anchor="middle">10</text><text x="125.5" y="380" text-anchor="middle">20</text><text x="187.0" y="380" text-anchor="middle">30</text><text x="248.5" y="380" text-anchor="middle">40</text><text x="310.0" y="380" text-anchor="middle">50</text><text x="371.5" y="380" text-anchor="middle">60</text></g>
<text x="39.28" y="34.29" font-size="16.70">(a)</text>
<text x="39.25" y="65.37" font-size="16.70">(b)</text>
<text x="40.03" y="92.72" font-size="16.70">(c)</text>
<text x="40.69" y="175.21" font-size="16.70">(d)</text>
<text x="40.65" y="311.61" font-size="16.70">(e)</text>
<text x="41.81" y="345.06" font-size="16.70">(f)</text>
<text transform="translate(13.00,232.08) rotate(-90)" font-size="16.70">Intensity (a. u.)</text>
<text transform="translate(160.72,35.23) rotate(-90)" font-size="11.30" style="stroke-width:0">(101)</text>
<text transform="translate(238.50,43.37) rotate(-90)" font-size="11.30" style="stroke-width:0">(004)</text>
<text transform="translate(299.81,44.35) rotate(-90)" font-size="11.30" style="stroke-width:0">(200)</text>
<text transform="translate(339.01,44.96) rotate(-90)" font-size="11.30" style="stroke-width:0">(105)</text>
<text transform="translate(173.53,179.32) rotate(-90)" font-size="11.30" style="stroke-width:0">(110)</text>
<text transform="translate(227.97,183.62) rotate(-90)" font-size="11.30" style="stroke-width:0">(101)</text>
<text transform="translate(265.94,175.27) rotate(-90)" font-size="11.30" style="stroke-width:0">(111)</text>
<text transform="translate(339.93,185.55) rotate(-90)" font-size="11.30" style="stroke-width:0">(211)</text>
<text x="141.82" y="175.38" font-size="9.00" style="font-weight:bold">*</text>
<text x="201.18" y="112.52" font-size="9.00" style="font-weight:bold">*</text>
<text x="248.34" y="184.23" font-size="9.00" style="font-weight:bold">*</text>
<text x="288.12" y="178.69" font-size="9.00" style="font-weight:bold">*</text>
<text x="325.08" y="184.21" font-size="9.00" style="font-weight:bold">*</text>
<text x="358.50" y="173.74" font-size="9.00" style="font-weight:bold">*</text>
<text y="401.20" font-size="16"><tspan x="148.18">2</tspan><tspan x="156.11" style="font-family:'Noto Serif CJK SC',serif;font-style:italic">θ</tspan><tspan x="169.65">/</tspan><tspan x="179.55">°</tspan><tspan x="190.44">(</tspan><tspan x="195.78">C</tspan><tspan x="207.53">u</tspan><tspan x="216.46">K</tspan><tspan x="227.51" style="font-family:'Noto Serif CJK SC',serif;font-style:italic">α</tspan><tspan x="238.58">)</tspan></text>
<line x1="263.2" y1="178.0" x2="256.2" y2="186.0" stroke="#000" stroke-width="1"/>
</svg>
</body></html>
